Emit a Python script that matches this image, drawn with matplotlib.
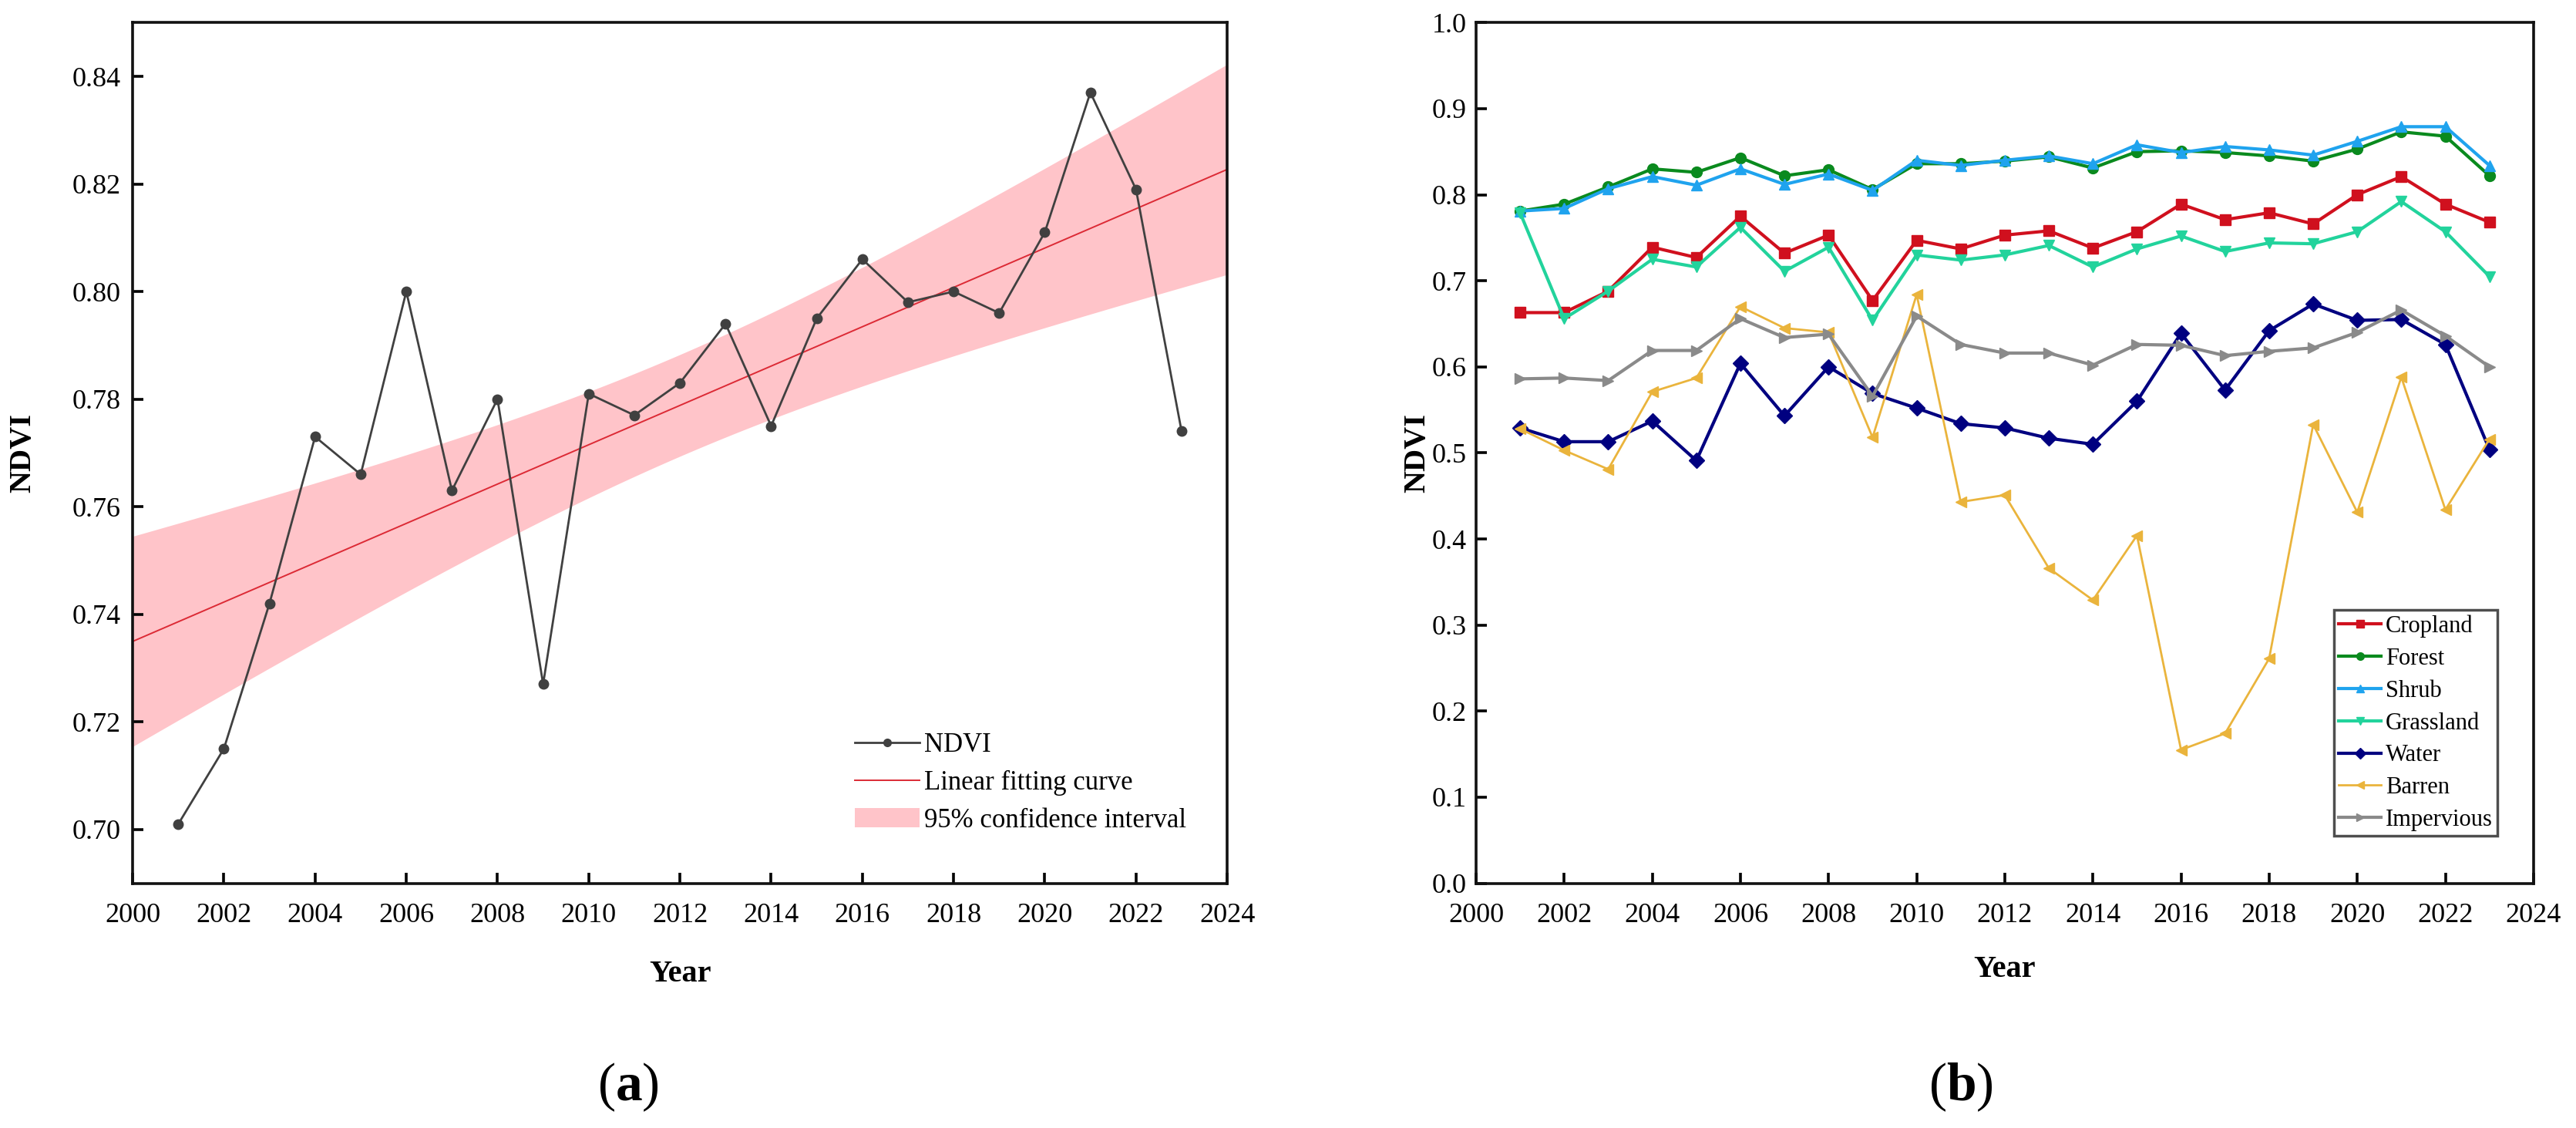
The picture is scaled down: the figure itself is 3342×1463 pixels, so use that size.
import numpy as np
import matplotlib
matplotlib.use('Agg')
import matplotlib.pyplot as plt
from matplotlib.patches import Patch
from matplotlib.lines import Line2D

plt.rcParams['font.family'] = ['Liberation Serif', 'DejaVu Serif']
plt.rcParams['mathtext.fontset'] = 'custom'
plt.rcParams['mathtext.rm'] = 'Liberation Serif'
plt.rcParams['mathtext.bf'] = 'Liberation Serif:bold'

# (a) 연평균 NDVI
years = list(range(2001, 2024))
ndvi = [0.701, 0.715, 0.742, 0.773, 0.766, 0.800, 0.763, 0.780, 0.727, 0.781,
        0.777, 0.783, 0.794, 0.775, 0.795, 0.806, 0.798, 0.800, 0.796, 0.811,
        0.837, 0.819, 0.774]

# (b) 토지피복별 NDVI
land_names = ['Cropland', 'Forest', 'Shrub', 'Grassland', 'Water', 'Barren', 'Impervious']
cropland = [0.663, 0.663, 0.688, 0.739, 0.727, 0.775, 0.732, 0.753, 0.677, 0.747,
            0.737, 0.753, 0.758, 0.738, 0.757, 0.789, 0.771, 0.779, 0.766, 0.800,
            0.821, 0.789, 0.768]
forest = [0.781, 0.789, 0.809, 0.830, 0.826, 0.843, 0.822, 0.829, 0.806, 0.836,
          0.836, 0.839, 0.844, 0.831, 0.850, 0.851, 0.849, 0.845, 0.839, 0.853,
          0.873, 0.868, 0.822]
shrub = [0.781, 0.784, 0.807, 0.821, 0.811, 0.830, 0.812, 0.824, 0.805, 0.840,
         0.834, 0.840, 0.845, 0.836, 0.858, 0.849, 0.856, 0.852, 0.846, 0.862,
         0.879, 0.879, 0.834]
grassland = [0.779, 0.656, 0.688, 0.725, 0.716, 0.762, 0.711, 0.739, 0.654, 0.730,
             0.724, 0.730, 0.741, 0.716, 0.737, 0.752, 0.734, 0.744, 0.743, 0.757,
             0.792, 0.757, 0.705]
water = [0.529, 0.513, 0.513, 0.537, 0.491, 0.604, 0.543, 0.600, 0.569, 0.552,
         0.534, 0.529, 0.517, 0.510, 0.560, 0.639, 0.573, 0.642, 0.673, 0.654,
         0.655, 0.626, 0.504]
barren = [0.528, 0.503, 0.481, 0.571, 0.587, 0.670, 0.645, 0.640, 0.518, 0.684,
          0.443, 0.451, 0.366, 0.329, 0.404, 0.155, 0.174, 0.261, 0.533, 0.431,
          0.588, 0.434, 0.516]
impervious = [0.586, 0.587, 0.584, 0.619, 0.619, 0.656, 0.634, 0.638, 0.566, 0.659,
              0.626, 0.616, 0.616, 0.602, 0.626, 0.625, 0.613, 0.618, 0.622, 0.640,
              0.666, 0.636, 0.600]
land_values = [cropland, forest, shrub, grassland, water, barren, impervious]
land_colors = ['#d0101e', '#0a8a1e', '#1fa3ee', '#22d39c', '#000080', '#eab43c', '#8a8a8a']
land_markers = ['s', 'o', '^', 'v', 'D', '<', '>']

x = np.array(years, dtype=float)
y = np.array(ndvi)

# 선형 회귀 + 95% 신뢰구간
slope, intercept = np.polyfit(x, y, 1)
resid = y - (slope * x + intercept)
n = len(x)
s_err = np.sqrt(np.sum(resid ** 2) / (n - 2))
t_val = 2.0796  # t(0.975, df=21)
xf = np.linspace(2000, 2024, 200)
yf = slope * xf + intercept
ci = t_val * s_err * np.sqrt(1 / n + (xf - x.mean()) ** 2 / np.sum((x - x.mean()) ** 2))

fig = plt.figure(figsize=(33.42, 14.63), dpi=100)
ax1 = fig.add_axes([0.0515, 0.217, 0.4249, 0.763])
ax2 = fig.add_axes([0.573, 0.217, 0.4105, 0.763])

ax1.fill_between(xf, yf - ci, yf + ci, color='#ffc4c9', linewidth=0, zorder=1)
ax1.plot(xf, yf, color='#dc2a35', linewidth=1.4, zorder=2)
ax1.plot(x, y, color='#404040', linewidth=2.0, marker='o', markersize=9, zorder=3)
ax1.set_xlim(2000, 2024)
ax1.set_ylim(0.69, 0.85)
ax1.set_xticks(range(2000, 2025, 2))
ax1.set_yticks([0.70, 0.72, 0.74, 0.76, 0.78, 0.80, 0.82, 0.84])
ax1.set_yticklabels(['0.70', '0.72', '0.74', '0.76', '0.78', '0.80', '0.82', '0.84'])
ax1.set_xlabel('Year', fontsize=29, fontweight='bold')
ax1.set_ylabel('NDVI', fontsize=29, fontweight='bold')
ax1.xaxis.set_label_coords(0.5, -0.089)
ax1.yaxis.set_label_coords(-0.087, 0.5)

handles_a = [Line2D([], [], color='#404040', linewidth=2.0, marker='o', markersize=7),
             Line2D([], [], color='#dc2a35', linewidth=1.4),
             Patch(facecolor='#ffc4c9', edgecolor='none')]
ax1.legend(handles_a, ['NDVI', 'Linear fitting curve', '95% confidence interval'],
           loc='lower right', bbox_to_anchor=(0.985, 0.03), frameon=False,
           fontsize=25, handlelength=2.4, handletextpad=0.2, labelspacing=0.45)

for name, vals, col, mk in zip(land_names, land_values, land_colors, land_markers):
    lw = 2.0 if name == 'Barren' else 3.0
    ax2.plot(years, vals, color=col, marker=mk, markersize=10, linewidth=lw, label=name)
ax2.set_xlim(2000, 2024)
ax2.set_ylim(0, 1.0)
ax2.set_xticks(range(2000, 2025, 2))
ax2.set_yticks(np.arange(0, 1.01, 0.1))
ax2.set_yticklabels([f'{v:.1f}' for v in np.arange(0, 1.01, 0.1)])
ax2.set_xlabel('Year', fontsize=29, fontweight='bold')
ax2.set_ylabel('NDVI', fontsize=29, fontweight='bold')
ax2.xaxis.set_label_coords(0.5, -0.084)
ax2.yaxis.set_label_coords(-0.042, 0.5)
leg = ax2.legend(loc='lower right', bbox_to_anchor=(0.966, 0.055), fontsize=22,
                 frameon=True, fancybox=False, handlelength=1.8, handletextpad=0.2,
                 labelspacing=0.42, borderpad=0.2, borderaxespad=0, markerscale=0.7)
leg.get_frame().set_edgecolor('#222222')
leg.get_frame().set_linewidth(2.5)

for ax, pad_y in [(ax1, 11), (ax2, 9)]:
    for sp in ax.spines.values():
        sp.set_linewidth(2.6)
        sp.set_color('#111111')
    ax.tick_params(axis='both', direction='in', length=10, width=2.6,
                   top=False, right=False, labelsize=26)
    ax.tick_params(axis='x', pad=18)
    ax.tick_params(axis='y', pad=pad_y)

# 하단 (a), (b) 표기
fig.text(815 / 3342, 1 - 1410 / 1463, r'($\mathbf{a}$)', fontsize=50, ha='center', va='center')
fig.text(2544 / 3342, 1 - 1410 / 1463, r'($\mathbf{b}$)', fontsize=50, ha='center', va='center')

fig.savefig('out.png', dpi=100, facecolor='white')
